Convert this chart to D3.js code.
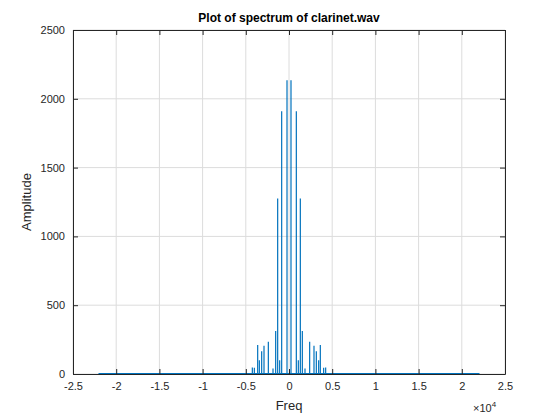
<!DOCTYPE html>
<html><head><meta charset="utf-8">
<script src="https://cdn.jsdelivr.net/npm/d3@7"></script>
<style>body{margin:0;background:#fff}text{font-family:Helvetica,Arial,"Liberation Sans",sans-serif}</style>
</head><body><svg id="c" width="560" height="420"></svg>
<script>
// positive-side harmonic peaks (Hz) and amplitudes; spectrum is mirrored
var freqs = [231, 848, 1080, 1311, 1543, 1851, 2391, 2893, 3163, 3433, 3625, 4011, 4243, 5200, 6500, 8000];
var amps  = [2135, 1910, 100, 1275, 312, 40, 235, 205, 165, 100, 210, 45, 48, 8, 5, 3];
var xTicks = [-2.5, -2, -1.5, -1, -0.5, 0, 0.5, 1, 1.5, 2, 2.5];
var yTicks = [0, 500, 1000, 1500, 2000, 2500];

var svg = d3.select("#c");
var m = {l: 73, r: 505, t: 30, b: 374};
var x = d3.scaleLinear().domain([-25000, 25000]).range([m.l, m.r]);
var y = d3.scaleLinear().domain([0, 2500]).range([m.b, m.t]);

// grid
svg.selectAll(".gx").data(xTicks).enter().append("line")
  .attr("x1", d => x(d * 1e4)).attr("x2", d => x(d * 1e4)).attr("y1", m.t).attr("y2", m.b)
  .style("stroke", "#dcdcdc").style("stroke-width", 1);
svg.selectAll(".gy").data(yTicks).enter().append("line")
  .attr("x1", m.l).attr("x2", m.r).attr("y1", d => y(d)).attr("y2", d => y(d))
  .style("stroke", "#dcdcdc").style("stroke-width", 1);

// spectrum stems
var pts = [];
freqs.forEach(function(f, i){ pts.push([f, amps[i]]); pts.push([-f, amps[i]]); });
svg.append("g").selectAll("line").data(pts).enter().append("line")
  .attr("x1", d => x(d[0])).attr("x2", d => x(d[0]))
  .attr("y1", y(0)).attr("y2", d => y(d[1]))
  .style("stroke", "#0072bd").style("stroke-width", 1.2);
svg.append("line").attr("x1", x(-22050)).attr("x2", x(22050)).attr("y1", y(0) - 0.5).attr("y2", y(0) - 0.5)
  .style("stroke", "#0072bd").style("stroke-width", 1);

// axes
var fmtX = d => String(d / 1e4).replace("\u2212", "-");
var xa = svg.append("g").attr("transform", "translate(0," + m.b + ")")
  .call(d3.axisBottom(x).tickValues(xTicks.map(d => d * 1e4)).tickFormat(fmtX).tickSizeInner(-5).tickSizeOuter(0).tickPadding(8));
var xt = svg.append("g").attr("transform", "translate(0," + m.t + ")")
  .call(d3.axisTop(x).tickValues(xTicks.map(d => d * 1e4)).tickFormat("").tickSizeInner(-5).tickSizeOuter(0));
var ya = svg.append("g").attr("transform", "translate(" + m.l + ",0)")
  .call(d3.axisLeft(y).tickValues(yTicks).tickFormat(d => String(d)).tickSizeInner(-5).tickSizeOuter(0).tickPadding(8));
var yr = svg.append("g").attr("transform", "translate(" + m.r + ",0)")
  .call(d3.axisRight(y).tickValues(yTicks).tickFormat("").tickSizeInner(-5).tickSizeOuter(0));
[xa, xt, ya, yr].forEach(function(g){
  g.selectAll("path,line").style("stroke", "#262626");
  g.selectAll("text").style("fill", "#262626").style("font-size", "11px");
});

svg.append("text").attr("x", 289).attr("y", 22).attr("text-anchor", "middle")
  .style("font-weight", "bold").style("font-size", "12px").style("fill", "#000").text("Plot of spectrum of clarinet.wav");
svg.append("text").attr("x", 289).attr("y", 410).attr("text-anchor", "middle")
  .style("font-size", "13px").style("fill", "#262626").text("Freq");
svg.append("text").attr("transform", "translate(31,202)rotate(-90)").attr("text-anchor", "middle")
  .style("font-size", "13px").style("fill", "#262626").text("Amplitude");
var ex = svg.append("text").attr("x", 473).attr("y", 412).style("font-size", "11px").style("fill", "#262626");
ex.append("tspan").text("\u00d710");
ex.append("tspan").attr("dy", -5).style("font-size", "8px").text("4");
</script></body></html>
